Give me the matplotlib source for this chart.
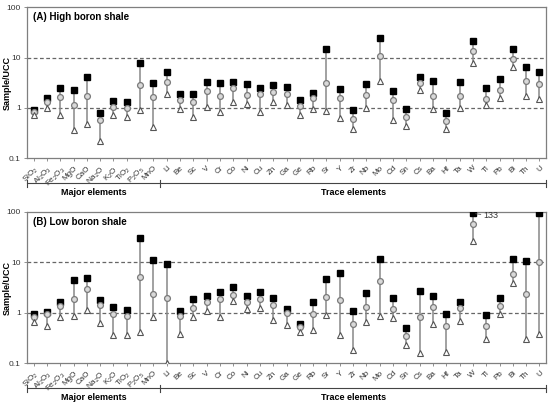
import numpy as np
import matplotlib
matplotlib.use('Agg')
import matplotlib.pyplot as plt
import matplotlib.transforms as mtransforms

plt.rcParams['font.family'] = ['Liberation Sans', 'DejaVu Sans']
plt.rcParams['mathtext.default'] = 'regular'

elements = ['SiO$_2$', 'Al$_2$O$_3$', 'Fe$_2$O$_3$', 'MgO', 'CaO', 'Na$_2$O', 'K$_2$O',
            'TiO$_2$', 'P$_2$O$_5$', 'MnO',
            'Li', 'Be', 'Sc', 'V', 'Cr', 'Co', 'Ni', 'Cu', 'Zn', 'Ga', 'Ge', 'Rb', 'Sr',
            'Y', 'Zr', 'Nb', 'Mo', 'Cd', 'Sn', 'Cs', 'Ba', 'Hf', 'Ta', 'W', 'Tl', 'Pb',
            'Bi', 'Th', 'U']
n_major = 10

# (A) high boron shale: max, mean, min (sample/UCC)
high_max = [0.93, 1.6, 2.5, 2.3, 4.1, 0.78, 1.38, 1.3, 7.9, 3.1,
            5.2, 1.92, 1.86, 3.26, 3.16, 3.3, 2.93, 2.48, 2.8, 2.6, 1.41, 2.0, 14.6,
            2.39, 0.91, 2.95, 24.7, 2.19, 0.97, 4.1, 3.38, 0.8, 3.23, 21.2, 2.54, 3.76,
            14.6, 6.56, 5.2]
high_mean = [0.82, 1.34, 1.64, 1.13, 1.72, 0.57, 1.06, 1.0, 2.89, 1.65,
             3.3, 1.46, 1.33, 2.13, 1.72, 2.48, 1.83, 1.86, 2.05, 1.87, 1.08, 1.6, 3.1,
             1.6, 0.6, 1.83, 10.8, 1.46, 0.67, 3.1, 1.77, 0.55, 1.75, 13.5, 1.5, 2.32,
             9.3, 3.5, 3.0]
high_min = [0.71, 0.98, 0.72, 0.37, 0.48, 0.22, 0.72, 0.67, 0.91, 0.41,
            1.92, 0.95, 0.66, 1.05, 0.85, 1.31, 1.2, 0.85, 1.33, 1.16, 0.74, 0.97, 0.86,
            0.63, 0.39, 1.0, 3.4, 0.57, 0.44, 2.25, 0.94, 0.38, 1.0, 8.0, 1.16, 1.6,
            6.6, 1.77, 1.48]

# (B) low boron shale
low_max = [0.94, 1.05, 1.65, 4.43, 5.0, 1.81, 1.33, 1.16, 30.4, 11.2,
           9.3, 1.11, 1.89, 2.2, 2.64, 3.3, 2.2, 2.6, 1.97, 1.2, 0.6, 1.63, 4.67,
           6.1, 1.08, 2.46, 11.6, 1.95, 0.5, 2.7, 2.11, 0.94, 1.65, 133, 0.89, 1.99,
           11.6, 10.6, 94]
low_mean = [0.81, 0.94, 1.37, 1.89, 2.98, 1.44, 0.94, 0.87, 5.15, 2.41,
            1.98, 0.85, 1.26, 1.62, 1.86, 2.27, 1.6, 1.86, 1.41, 1.0, 0.52, 0.93, 2.02,
            1.76, 0.6, 1.28, 4.2, 1.18, 0.35, 0.82, 1.28, 0.54, 1.22, 57, 0.55, 1.36,
            5.9, 2.35, 10.0]
low_min = [0.66, 0.54, 0.81, 0.86, 1.16, 0.62, 0.37, 0.37, 0.42, 0.83,
           0.1, 0.38, 0.83, 1.1, 0.83, 1.75, 1.18, 1.26, 0.72, 0.57, 0.42, 0.46, 0.9,
           0.36, 0.18, 0.67, 0.87, 0.8, 0.23, 0.16, 0.59, 0.17, 0.68, 26, 0.3, 0.93,
           3.83, 0.3, 0.38]

panels = [('(A) High boron shale', high_max, high_mean, high_min),
          ('(B) Low boron shale', low_max, low_mean, low_min)]

fig = plt.figure(figsize=(5.5, 4.05), dpi=100)
ax_boxes = [[0.049, 0.609, 0.944, 0.373], [0.049, 0.103, 0.944, 0.374]]
frame_col = '#7f7f7f'
x = np.arange(len(elements))
top_cap = 93  # off-scale values are drawn at the top edge

for box, (title, vmax, vmean, vmin) in zip(ax_boxes, panels):
    ax = fig.add_axes(box)
    vmax = np.array(vmax, dtype=float)
    shown_max = np.minimum(vmax, top_cap)
    ax.vlines(x, vmin, shown_max, color='#888888', lw=1.1, zorder=1)
    ax.plot(x, shown_max, 's', ms=4.0, mfc='black', mec='black', ls='none', zorder=3)
    ax.plot(x, vmean, 'o', ms=4.2, mfc='#d9d9d9', mec='#7a7a7a', mew=0.9, ls='none', zorder=3)
    ax.plot(x, vmin, '^', ms=4.2, mfc='white', mec='#555555', mew=0.8, ls='none', zorder=3)
    for i, v in enumerate(vmax):
        if v > 100 and elements[i] == 'W':
            ax.annotate(f'{v:.0f}', xy=(x[i], top_cap), xytext=(x[i] + 0.8, top_cap * 0.9),
                        fontsize=6.5, color='#333333', va='center',
                        arrowprops=dict(arrowstyle='-', color='#555555', lw=0.6,
                                        shrinkA=0, shrinkB=2))

    ax.set_yscale('log')
    ax.set_ylim(0.1, 100)
    ax.set_xlim(-0.5, len(elements) - 0.5)
    for lv in [1, 10]:
        ax.axhline(lv, color='#666666', ls=(0, (3, 2)), lw=0.9, zorder=0)
    ax.set_yticks([0.1, 1, 10, 100])
    ax.set_yticklabels(['0.1', '1', '10', '100'])
    ax.minorticks_off()
    ax.set_xticks(x)
    ax.set_xticklabels(elements, rotation=45, ha='right', va='top',
                       rotation_mode='anchor', fontsize=5.8, color='#333333')
    ax.tick_params(axis='x', length=2.5, width=0.6, color=frame_col, pad=2)
    ax.tick_params(axis='y', length=2.5, width=0.6, color=frame_col, labelsize=6,
                   labelcolor='#333333', pad=2)
    for sp in ax.spines.values():
        sp.set_color(frame_col)
        sp.set_linewidth(0.9)
    ax.set_ylabel('Sample/UCC', fontsize=6.5, fontweight='bold')
    ax.yaxis.set_label_coords(-0.029, 0.5)
    ax.text(0.012, 0.935, title, transform=ax.transAxes, fontsize=7,
            fontweight='bold', va='center', ha='left')

    # element group brackets under the axis
    trans = mtransforms.blended_transform_factory(ax.transData, ax.transAxes)
    yb = -0.165
    split = n_major - 0.5
    ax.plot([-0.5, len(elements) - 0.5], [yb, yb], color='#444444', lw=0.8,
            transform=trans, clip_on=False)
    for xe in [-0.5, split, len(elements) - 0.5]:
        ax.plot([xe, xe], [yb - 0.022, yb + 0.022], color='#444444', lw=0.8,
                transform=trans, clip_on=False)
    ax.text((split - 0.5) / 2, -0.228, 'Major elements', transform=trans,
            ha='center', va='center', fontsize=6.5, fontweight='bold')
    ax.text((split + len(elements) - 0.5) / 2, -0.228, 'Trace elements',
            transform=trans, ha='center', va='center', fontsize=6.5, fontweight='bold')

fig.savefig('out.png', dpi=100)
